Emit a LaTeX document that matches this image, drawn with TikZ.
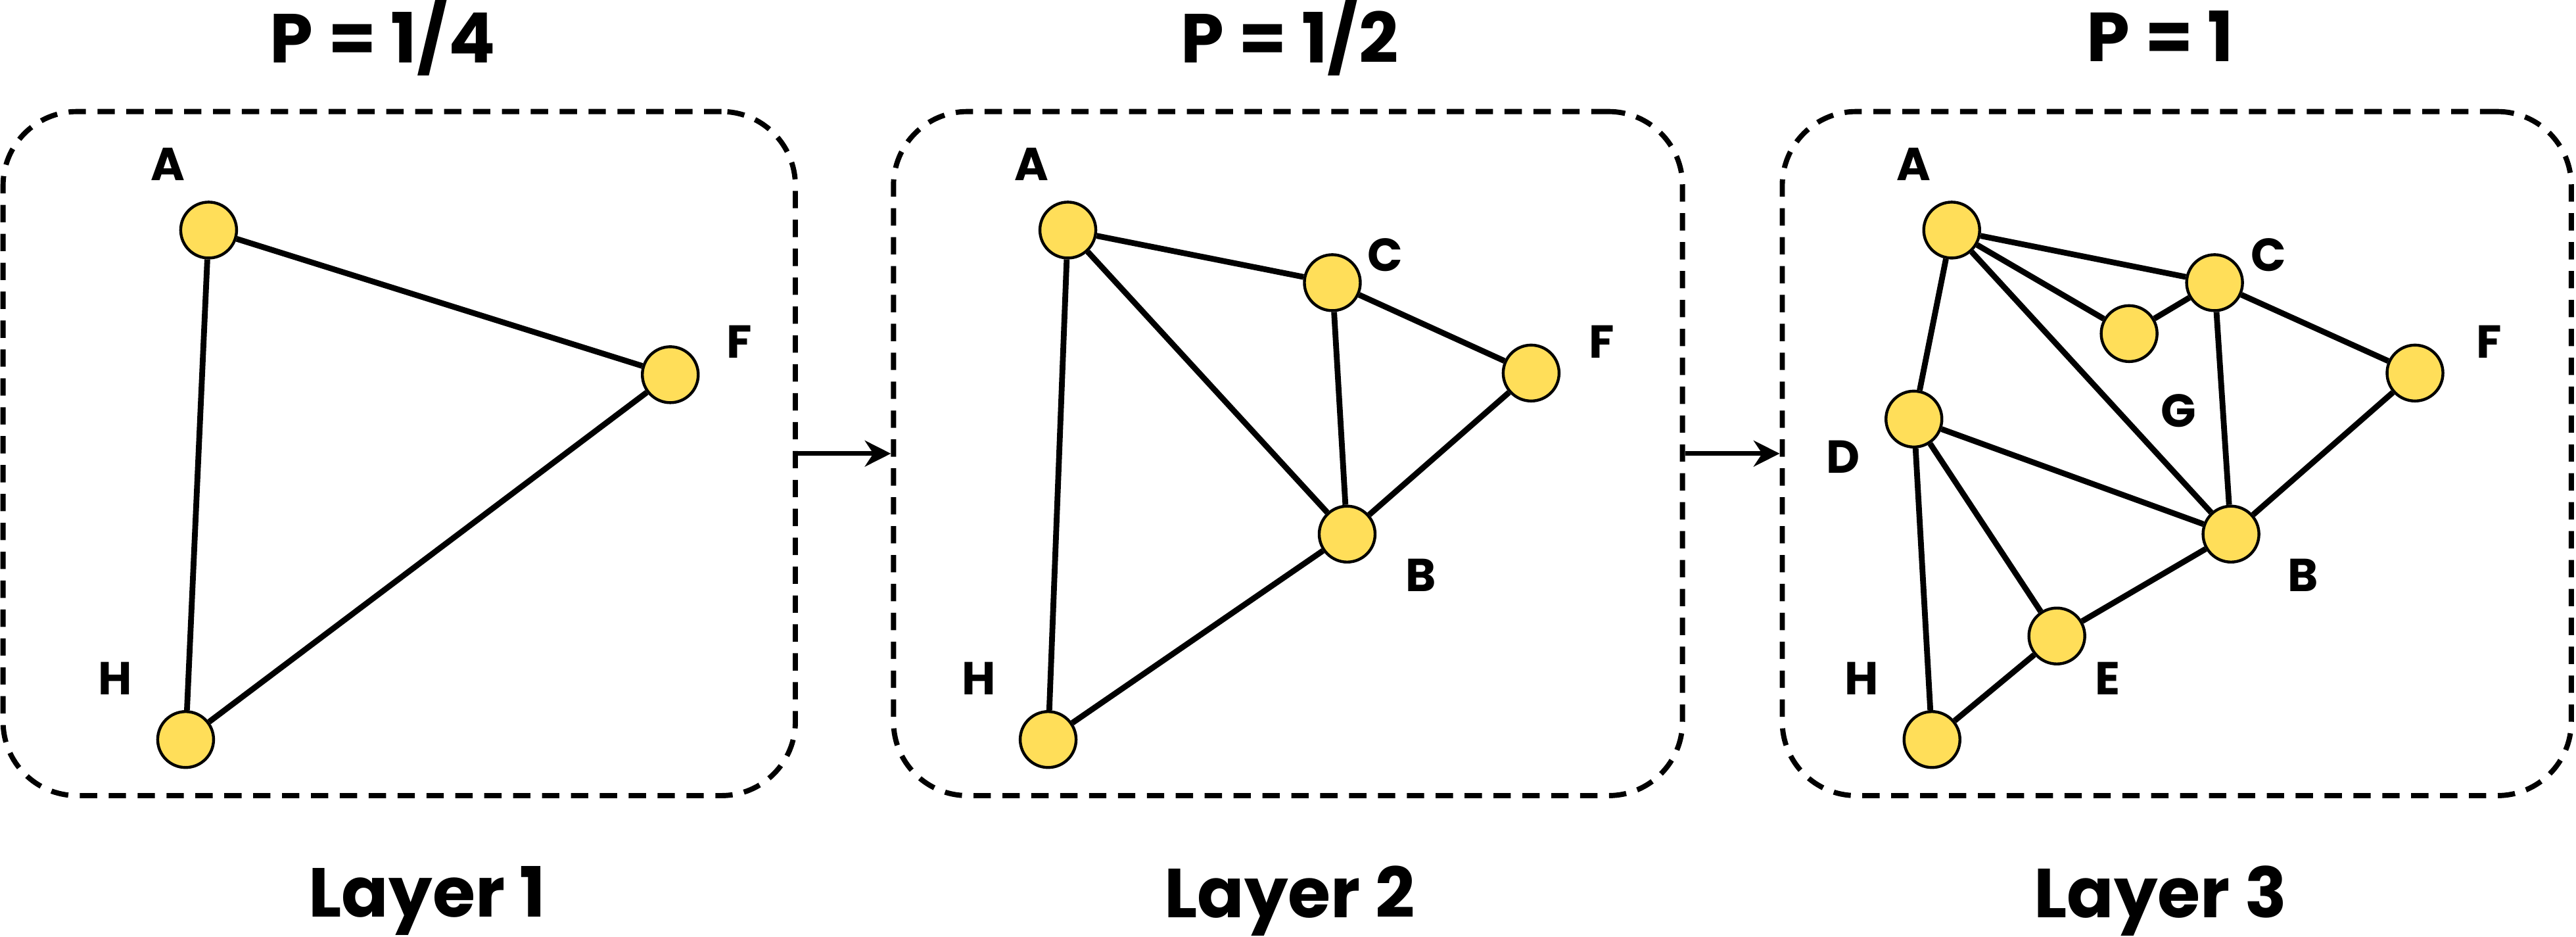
\documentclass[tikz,border=0pt]{standalone}
\usepackage{fontspec}
\setmainfont{Poppins}
\usetikzlibrary{arrows.meta}
\definecolor{ny}{HTML}{FFDE59}
\begin{document}
\begin{tikzpicture}[x=0.01cm,y=-0.01cm,
  v/.style={circle,draw=black,line width=0.5pt,fill=ny,minimum size=0.34cm,inner sep=0pt},
  lab/.style={font=\bfseries\fontsize{8}{9}\selectfont},
  ttl/.style={font=\bfseries\fontsize{12}{14}\selectfont},
  e/.style={line width=1pt},
  box/.style={draw,line width=0.9pt,rounded corners=0.45cm,dash pattern=on 3pt off 2pt},
  ar/.style={line width=0.8pt,-{Stealth[length=4.5pt,width=4.5pt]}}]
\useasboundingbox (0,0) rectangle (1568,570);
% boxes
\node[box,minimum width=4.82cm,minimum height=4.16cm] (b1) at (243,276) {};
\node[box,minimum width=4.80cm,minimum height=4.16cm] (b2) at (784,276) {};
\node[box,minimum width=4.80cm,minimum height=4.16cm] (b3) at (1325,276) {};
\draw[ar] (b1.east) -- (b2.west);
\draw[ar] (b2.east) -- (b3.west);
% titles
\node[ttl] (t1) at (233,22) {P = 1/4};
\node[ttl] (t2) at (785,22) {P = 1/2};
\node[ttl] (t3) at (1315,22) {P = 1};
\node[ttl] (l1) at (260,548) {Layer 1};
\node[ttl] (l2) at (785,548) {Layer 2};
\node[ttl] (l3) at (1315,548) {Layer 3};
% panel 1
\node[v] (a1) at (127,140) {};
\node[v] (f1) at (408,228) {};
\node[v] (h1) at (113,450) {};
\draw[e] (a1)--(f1) (a1)--(h1) (h1)--(f1);
\node[lab] (la1) at (102,100) {A};
\node[lab] (lf1) at (450,208) {F};
\node[lab] (lh1) at (70,413) {H};
% panel 2
\node[v] (a2) at (650,140) {};
\node[v] (c2) at (811,172) {};
\node[v] (f2) at (932,227) {};
\node[v] (b2n) at (820,325) {};
\node[v] (h2) at (638,450) {};
\draw[e] (a2)--(c2) (a2)--(b2n) (a2)--(h2) (c2)--(f2) (c2)--(b2n) (f2)--(b2n) (h2)--(b2n);
\node[lab] (la2) at (628,100) {A};
\node[lab] (lc2) at (843,155) {C};
\node[lab] (lf2) at (975,208) {F};
\node[lab] (lb2) at (865,350) {B};
\node[lab] (lh2) at (596,413) {H};
% panel 3
\node[v] (a3) at (1188,140) {};
\node[v] (c3) at (1348,172) {};
\node[v] (f3) at (1470,227) {};
\node[v] (g3) at (1296,203) {};
\node[v] (b3n) at (1358,325) {};
\node[v] (d3) at (1165,255) {};
\node[v] (e3) at (1252,387) {};
\node[v] (h3) at (1176,450) {};
\draw[e] (a3)--(c3) (a3)--(g3) (g3)--(c3) (a3)--(d3) (a3)--(b3n) (c3)--(b3n)
  (c3)--(f3) (f3)--(b3n) (d3)--(b3n) (d3)--(e3) (d3)--(h3) (e3)--(b3n) (h3)--(e3);
\node[lab] (la3) at (1165,100) {A};
\node[lab] (lc3) at (1381,155) {C};
\node[lab] (lf3) at (1515,208) {F};
\node[lab] (lg3) at (1326,250) {G};
\node[lab] (lb3) at (1402,350) {B};
\node[lab] (ld3) at (1122,278) {D};
\node[lab] (le3) at (1283,413) {E};
\node[lab] (lh3) at (1133,413) {H};
\end{tikzpicture}
\end{document}
